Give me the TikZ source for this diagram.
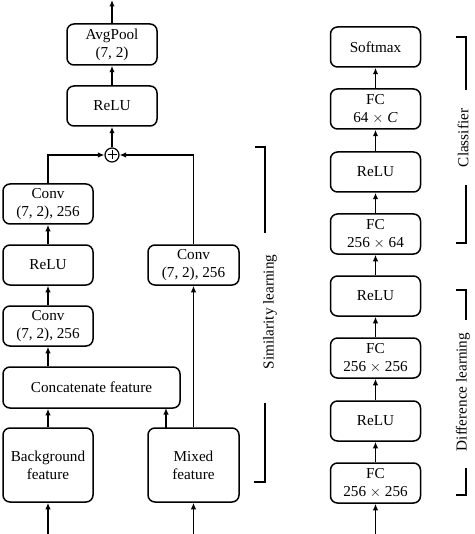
\documentclass[tikz,border=0pt]{standalone}
\usepackage{fontspec}
\setmainfont{Liberation Serif}
\usetikzlibrary{arrows.meta}
\begin{document}
\begin{tikzpicture}[x=1pt,y=-1pt,
  box/.style={draw, line width=1.5pt, rounded corners=7pt, minimum width=90pt, minimum height=40pt, inner sep=0pt, align=center, font=\fontsize{15.2}{18}\selectfont},
  conn/.style={line width=1.4pt, -{Latex[length=6.5pt,width=5.5pt]}},
  brk/.style={line width=1.4pt},
  lbl/.style={rotate=90, font=\fontsize{15.2}{18}\selectfont, inner sep=0pt}]
\useasboundingbox (0,0) rectangle (474,534);
% left column
\node[box, minimum height=41pt] (avg) at (112,44.5) {AvgPool\\(7, 2)};
\node[box] (relu1) at (112,106) {ReLU};
\node[draw, circle, line width=1.2pt, minimum size=14pt, inner sep=0pt] (plus) at (112,155) {};
\draw[line width=1pt] (107.5,155) -- (116.5,155);
\draw[line width=1pt] (112,150.5) -- (112,159.5);
\node[box] (conv2) at (48,204) {Conv\\(7, 2), 256};
\node[box] (relu2) at (48,265) {ReLU};
\node[box] (conv1) at (48,326) {Conv\\(7, 2), 256};
\node[box, minimum width=91pt] (convR) at (193.5,265) {Conv\\(7, 2), 256};
\node[box, minimum width=177pt, minimum height=41pt] (concat) at (91.5,387.5) {Concatenate feature};
\node[box, minimum height=74pt] (bg) at (48,465) {Background\\feature};
\node[box, minimum width=91pt, minimum height=74pt] (mixed) at (193.5,465) {Mixed\\feature};
\coordinate (topout) at (112,0);
\coordinate (inL) at (48,534);
\coordinate (inM) at (193.5,534);
\coordinate (mixTop) at (166,428);
\coordinate (catIn) at (166,408);
\draw[conn] (avg.north) -- (topout);
\draw[conn] (relu1.north) -- (avg.south);
\draw[conn] (plus.north) -- (relu1.south);
\draw[conn] (conv2.north) |- (plus.west);
\draw[conn] (convR.north) |- (plus.east);
\draw[conn] (relu2.north) -- (conv2.south);
\draw[conn] (conv1.north) -- (relu2.south);
\draw[conn] (concat.north -| conv1.south) -- (conv1.south);
\draw[conn] (bg.north) -- (bg.north |- concat.south);
\draw[conn] (mixTop) -- (catIn);
\draw[conn] (mixed.north) -- (convR.south);
\draw[conn] (inL) -- (bg.south);
\draw[conn] (inM) -- (mixed.south);
% right column
\begin{scope}[every node/.append style={minimum width=91pt}]
\node[box] (soft) at (375.5,47) {Softmax};
\node[box] (fc3) at (375.5,109) {FC\\64 $\times$ \textit{C}};
\node[box] (relu4) at (375.5,172) {ReLU};
\node[box] (fc2) at (375.5,234) {FC\\256 $\times$ 64};
\node[box] (relu3) at (375.5,296) {ReLU};
\node[box] (fc1) at (375.5,358) {FC\\256 $\times$ 256};
\node[box] (relu5) at (375.5,421) {ReLU};
\node[box] (fc0) at (375.5,483) {FC\\256 $\times$ 256};
\end{scope}
\coordinate (inR) at (375.5,534);
\draw[conn] (inR) -- (fc0.south);
\draw[conn] (fc0.north) -- (relu5.south);
\draw[conn] (relu5.north) -- (fc1.south);
\draw[conn] (fc1.north) -- (relu3.south);
\draw[conn] (relu3.north) -- (fc2.south);
\draw[conn] (fc2.north) -- (relu4.south);
\draw[conn] (relu4.north) -- (fc3.south);
\draw[conn] (fc3.north) -- (soft.south);
% brackets
\draw[brk] (255,147) -- (265,147) -- (265,233);
\draw[brk] (265,403) -- (265,482) -- (254,482);
\node[lbl] (simlbl) at (270,312) {Similarity learning};
\draw[brk] (456,37) -- (466,37) -- (466,90);
\draw[brk] (466,185) -- (466,243) -- (456,243);
\node[lbl] (clslbl) at (463,138) {Classifier};
\draw[brk] (456,290) -- (466,290) -- (466,320);
\draw[brk] (466,468) -- (466,495) -- (456,495);
\node[lbl] (diflbl) at (463,392) {Difference learning};
\end{tikzpicture}
\end{document}
